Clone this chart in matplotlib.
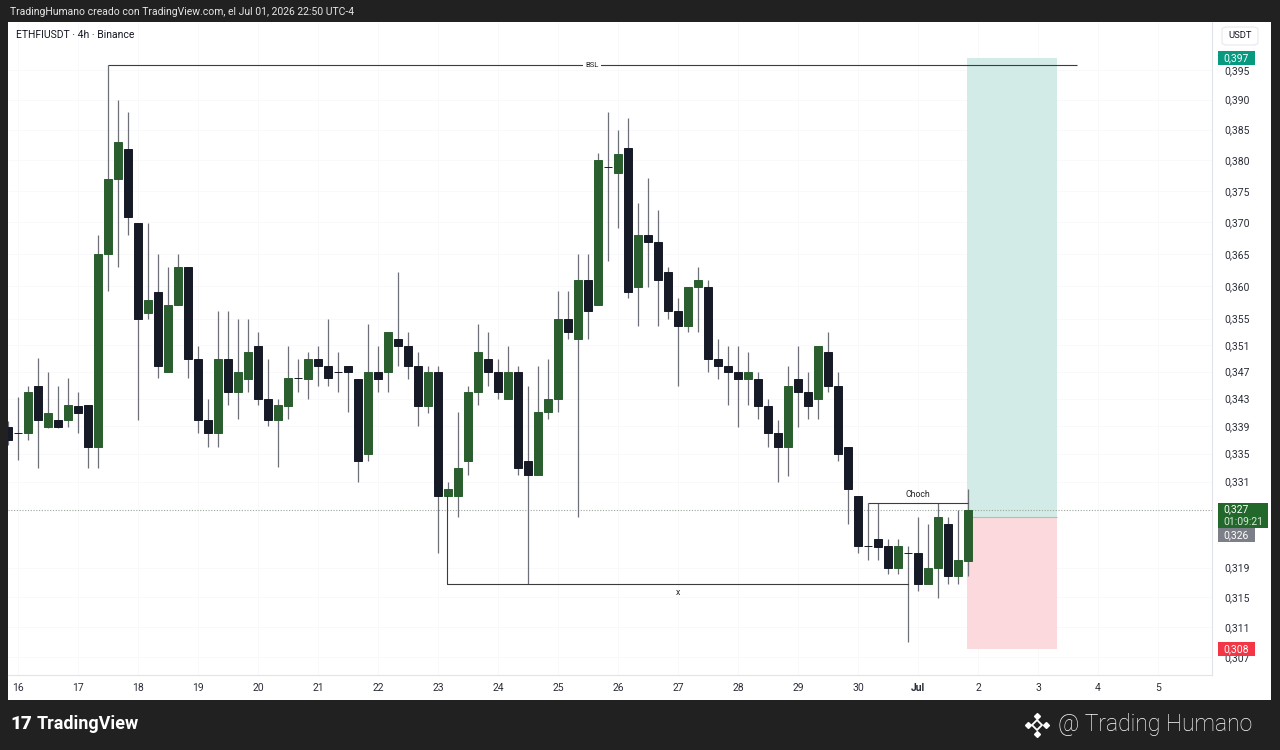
import matplotlib

matplotlib.use("Agg")
import matplotlib.pyplot as plt
import numpy as np
from matplotlib.patches import Rectangle, FancyBboxPatch
from matplotlib.ticker import FixedLocator, NullLocator
from matplotlib.transforms import IdentityTransform

plt.rcParams["font.family"] = ["Roboto", "DejaVu Sans"]

# 4h candles, ETHFIUSDT, from Jun 15 20:00 onwards (index 1 = Jun 16 00:00)
opens = [
    0.3389, 0.3380, 0.3380, 0.3449, 0.3389, 0.3399, 0.3399, 0.3419, 0.3420, 0.3360,
    0.3650, 0.3770, 0.3818, 0.3699, 0.3559, 0.3590, 0.3470, 0.3570, 0.3630, 0.3489,
    0.3399, 0.3380, 0.3489, 0.3440, 0.3459, 0.3509, 0.3430, 0.3399, 0.3419, 0.3461,
    0.3459, 0.3489, 0.3479, 0.3470, 0.3479, 0.3459, 0.3350, 0.3470, 0.3470, 0.3519,
    0.3509, 0.3479, 0.3419, 0.3470, 0.3289, 0.3289, 0.3340, 0.3440, 0.3489, 0.3470,
    0.3430, 0.3470, 0.3340, 0.3320, 0.3411, 0.3430, 0.3550, 0.3519, 0.3610, 0.3570,
    0.3789, 0.3779, 0.3820, 0.3599, 0.3680, 0.3669, 0.3621, 0.3561, 0.3539, 0.3599,
    0.3599, 0.3489, 0.3479, 0.3470, 0.3459, 0.3459, 0.3419, 0.3380, 0.3360, 0.3459,
    0.3440, 0.3429, 0.3500, 0.3449, 0.3360, 0.3289, 0.3220, 0.3230, 0.3220, 0.3189,
    0.3210, 0.3210, 0.3168, 0.3189, 0.3250, 0.3179, 0.3199,
]
highs = [
    0.3397, 0.3432, 0.3449, 0.3491, 0.3470, 0.3449, 0.3461, 0.3440, 0.3420, 0.3680,
    0.3958, 0.3900, 0.3880, 0.3699, 0.3699, 0.3650, 0.3630, 0.3650, 0.3630, 0.3509,
    0.3430, 0.3561, 0.3561, 0.3550, 0.3550, 0.3530, 0.3489, 0.3430, 0.3509, 0.3489,
    0.3500, 0.3509, 0.3550, 0.3500, 0.3479, 0.3459, 0.3541, 0.3509, 0.3530, 0.3621,
    0.3530, 0.3500, 0.3479, 0.3479, 0.3310, 0.3411, 0.3449, 0.3541, 0.3530, 0.3489,
    0.3509, 0.3479, 0.3449, 0.3479, 0.3489, 0.3592, 0.3592, 0.3650, 0.3650, 0.3812,
    0.3880, 0.3850, 0.3870, 0.3730, 0.3771, 0.3720, 0.3630, 0.3581, 0.3599, 0.3630,
    0.3610, 0.3519, 0.3509, 0.3509, 0.3500, 0.3470, 0.3429, 0.3399, 0.3479, 0.3509,
    0.3470, 0.3509, 0.3530, 0.3470, 0.3360, 0.3289, 0.3280, 0.3280, 0.3230, 0.3230,
    0.3220, 0.3260, 0.3250, 0.3280, 0.3260, 0.3270, 0.3300,
]
lows = [
    0.3363, 0.3341, 0.3370, 0.3330, 0.3387, 0.3387, 0.3389, 0.3380, 0.3330, 0.3330,
    0.3592, 0.3630, 0.3680, 0.3399, 0.3550, 0.3461, 0.3470, 0.3570, 0.3461, 0.3380,
    0.3360, 0.3360, 0.3420, 0.3400, 0.3440, 0.3420, 0.3390, 0.3331, 0.3400, 0.3440,
    0.3430, 0.3449, 0.3449, 0.3440, 0.3411, 0.3310, 0.3340, 0.3440, 0.3440, 0.3479,
    0.3459, 0.3390, 0.3409, 0.3210, 0.3289, 0.3260, 0.3320, 0.3420, 0.3449, 0.3430,
    0.3430, 0.3320, 0.3168, 0.3320, 0.3400, 0.3411, 0.3519, 0.3260, 0.3519, 0.3570,
    0.3639, 0.3690, 0.3581, 0.3539, 0.3599, 0.3539, 0.3550, 0.3449, 0.3530, 0.3530,
    0.3470, 0.3459, 0.3420, 0.3389, 0.3420, 0.3400, 0.3360, 0.3310, 0.3318, 0.3389,
    0.3400, 0.3400, 0.3440, 0.3340, 0.3250, 0.3210, 0.3200, 0.3200, 0.3181, 0.3181,
    0.3090, 0.3158, 0.3168, 0.3149, 0.3168, 0.3168, 0.3179,
]
closes = [
    0.3369, 0.3380, 0.3440, 0.3399, 0.3409, 0.3389, 0.3420, 0.3409, 0.3360, 0.3650,
    0.3770, 0.3830, 0.3709, 0.3550, 0.3579, 0.3479, 0.3570, 0.3630, 0.3489, 0.3399,
    0.3380, 0.3489, 0.3440, 0.3470, 0.3500, 0.3430, 0.3399, 0.3420, 0.3461, 0.3461,
    0.3489, 0.3479, 0.3461, 0.3470, 0.3470, 0.3340, 0.3470, 0.3459, 0.3530, 0.3509,
    0.3479, 0.3419, 0.3470, 0.3289, 0.3300, 0.3330, 0.3440, 0.3500, 0.3470, 0.3440,
    0.3470, 0.3330, 0.3320, 0.3411, 0.3430, 0.3550, 0.3530, 0.3610, 0.3561, 0.3800,
    0.3789, 0.3810, 0.3590, 0.3680, 0.3669, 0.3610, 0.3561, 0.3539, 0.3599, 0.3610,
    0.3489, 0.3479, 0.3470, 0.3459, 0.3470, 0.3419, 0.3380, 0.3360, 0.3449, 0.3440,
    0.3419, 0.3509, 0.3449, 0.3350, 0.3300, 0.3220, 0.3220, 0.3218, 0.3189, 0.3220,
    0.3210, 0.3168, 0.3189, 0.3260, 0.3179, 0.3200, 0.3270,
]

day_labels = ["16", "17", "18", "19", "20", "21", "22", "23", "24", "25",
              "26", "27", "28", "29", "30", "Jul", "2", "3", "4", "5"]
price_ticks = [0.395, 0.390, 0.385, 0.380, 0.375, 0.370, 0.365, 0.360, 0.355,
               0.351, 0.347, 0.343, 0.339, 0.335, 0.331, 0.319, 0.315, 0.311, 0.307]

# drawn levels
bsl_level = 0.3958
choch_level = 0.3280
x_level = 0.3168
x_start_top = 0.3289
last_price = 0.327
entry, target, stop = 0.326, 0.397, 0.308

GREEN = "#2a5e2e"
DARK = "#151a26"
WICK = "#6d7079"
FRAME = "#212121"

W, H = 1280, 750
fig = plt.figure(figsize=(W / 100, H / 100), dpi=100, facecolor=FRAME)

# white chart panel (plot + price scale + time scale)
fig.add_artist(Rectangle((8 / W, 1 - 700 / H), (1271 - 8) / W, (700 - 22) / H,
                         transform=fig.transFigure, facecolor="white",
                         edgecolor="none", zorder=-10))

ax = fig.add_axes([8 / W, 1 - 675 / H, (1212 - 8) / W, (675 - 22) / H])
ax.set_facecolor("white")
ax.set_yscale("log")
ax.set_xlim(0, 120.4)
ax.set_ylim(0.30463, 0.4032)

xs = np.arange(len(opens))
o = np.array(opens)
c = np.array(closes)
up = c > o
colors = np.where(up, GREEN, DARK)

ax.vlines(xs, lows, highs, color=WICK, lw=0.9, zorder=3)
ax.bar(xs, np.abs(c - o), bottom=np.minimum(o, c), width=0.72,
       color=colors, edgecolor=colors, linewidth=0.7, zorder=4)

# very faint grid
day_pos = [1 + 6 * k for k in range(len(day_labels))]
for p in price_ticks:
    ax.axhline(p, color="#f8f9fb", lw=0.6, zorder=0)
for d in day_pos:
    ax.axvline(d, color="#f8f9fb", lw=0.6, zorder=0)

# long position tool
ax.add_patch(Rectangle((95.9, entry), 9.0, target - entry, facecolor="#d2ebe6",
                       edgecolor="none", zorder=1))
ax.add_patch(Rectangle((95.9, stop), 9.0, entry - stop, facecolor="#fbd9dc",
                       edgecolor="none", zorder=1))
ax.hlines(entry, 95.9, 104.9, color="#9cc5bd", lw=0.8, zorder=1)

# current price dotted line
ax.axhline(last_price, color="#9ba59b", lw=0.8, ls=(0, (1, 1.5)), zorder=2)

# BSL
ax.hlines(bsl_level, 10, 106.9, color="#3c3c3c", lw=0.8, zorder=5)
ax.text(58.4, bsl_level, "BSL", fontsize=5.5, ha="center", va="center", color="#222",
        bbox=dict(facecolor="white", edgecolor="none", pad=1.5), zorder=6)

# Choch
ax.hlines(choch_level, 86, 96, color="#3c3c3c", lw=0.8, zorder=5)
ax.annotate("Choch", (91, choch_level), xytext=(0, 3), textcoords="offset points",
            fontsize=6.3, ha="center", va="bottom", color="#222")

# x liquidity line
ax.plot([43.9, 43.9, 90], [x_start_top, x_level, x_level], color="#3c3c3c",
        lw=0.8, zorder=5)
ax.annotate("x", (67, x_level), xytext=(0, -3), textcoords="offset points",
            fontsize=6.3, ha="center", va="top", color="#222")

# axes styling
for s in ("top", "left"):
    ax.spines[s].set_visible(False)
for s in ("right", "bottom"):
    ax.spines[s].set_color("#e0e3eb")
    ax.spines[s].set_linewidth(0.8)

ax.yaxis.tick_right()
ax.yaxis.set_major_locator(FixedLocator(price_ticks))
ax.yaxis.set_minor_locator(NullLocator())
ax.set_yticklabels([f"{p:.3f}".replace(".", ",") for p in price_ticks])
ax.tick_params(axis="y", length=0, pad=9, labelsize=7.5, labelcolor="#2a2e39")

ax.set_xticks(day_pos)
ax.set_xticklabels(day_labels)
ax.tick_params(axis="x", length=0, pad=6, labelsize=7.5, labelcolor="#2a2e39")
for lbl in ax.get_xticklabels():
    if lbl.get_text() == "Jul":
        lbl.set_fontweight("bold")

# header texts
fig.text(10 / W, 1 - 12 / H, "TradingHumano creado con TradingView.com, el Jul 01, 2026 22:50 UTC-4",
         fontsize=7.5, color="#e6e6e6", va="center", ha="left")
fig.text(16 / W, 1 - 35 / H, "ETHFIUSDT · 4h · Binance", fontsize=7.5, color="#131722",
         va="center", ha="left")

# USDT box
fig.add_artist(FancyBboxPatch((1222 / W, 1 - 45 / H), 36 / W, 18 / H,
                              boxstyle="round,pad=0,rounding_size=0.004",
                              transform=fig.transFigure, facecolor="white",
                              edgecolor="#e6e8ee", lw=0.8))
fig.text(1240 / W, 1 - 36 / H, "USDT", fontsize=6.8, color="#131722", ha="center", va="center")

# price scale labels
fig.canvas.draw()


def ypx(price):
    return ax.transData.transform((0, price))[1]


def price_box(y_center, h, x0, x1, face, lines):
    fig.add_artist(Rectangle((x0, y_center - h / 2), x1 - x0, h, transform=IdentityTransform(),
                             facecolor=face, edgecolor="none", zorder=5))
    n = len(lines)
    for k, (txt, col) in enumerate(lines):
        yy = y_center + h / 2 - (k + 0.5) * h / n
        fig.text(1223 / W, yy / H, txt, fontsize=7.5, color=col, ha="left", va="center", zorder=6)


price_box(ypx(target), 14, 1218, 1255, "#089981", [("0,397", "white")])
ytop = ypx(last_price) + 7
price_box(ytop - 12.5, 25, 1218, 1268, "#22682b", [("0,327", "white"), ("01:09:21", "#d8e8d8")])
price_box(ytop - 25 - 7.5, 14, 1218, 1255, "#7c7f88", [("0,326", "white")])
price_box(ypx(stop), 14, 1218, 1255, "#f23645", [("0,308", "white")])

# footer
fig.text(10 / W, 1 - 724 / H, "17", fontsize=13.5, fontweight="heavy", color="white",
         ha="left", va="center")
fig.text(37 / W, 1 - 724 / H, "TradingView", fontsize=13, fontweight="bold", color="white",
         ha="left", va="center")
fig.text(1058 / W, 1 - 724 / H, "@ Trading Humano", fontsize=16.5, fontweight="light",
         color="white", ha="left", va="center")
icon = fig.add_axes([1024 / W, 1 - 738 / H, 26 / W, 26 / H])
icon.set_xlim(-1, 1)
icon.set_ylim(-1, 1)
icon.axis("off")
icon.plot([0], [0], marker="D", ms=5, mfc="none", mec="white", mew=1.3)
for dx, dy in ((0, 0.72), (0, -0.72), (0.72, 0), (-0.72, 0)):
    icon.plot([dx], [dy], marker="D", ms=3, mfc="white", mec="white")

fig.savefig("out.png", dpi=100, facecolor=FRAME)
